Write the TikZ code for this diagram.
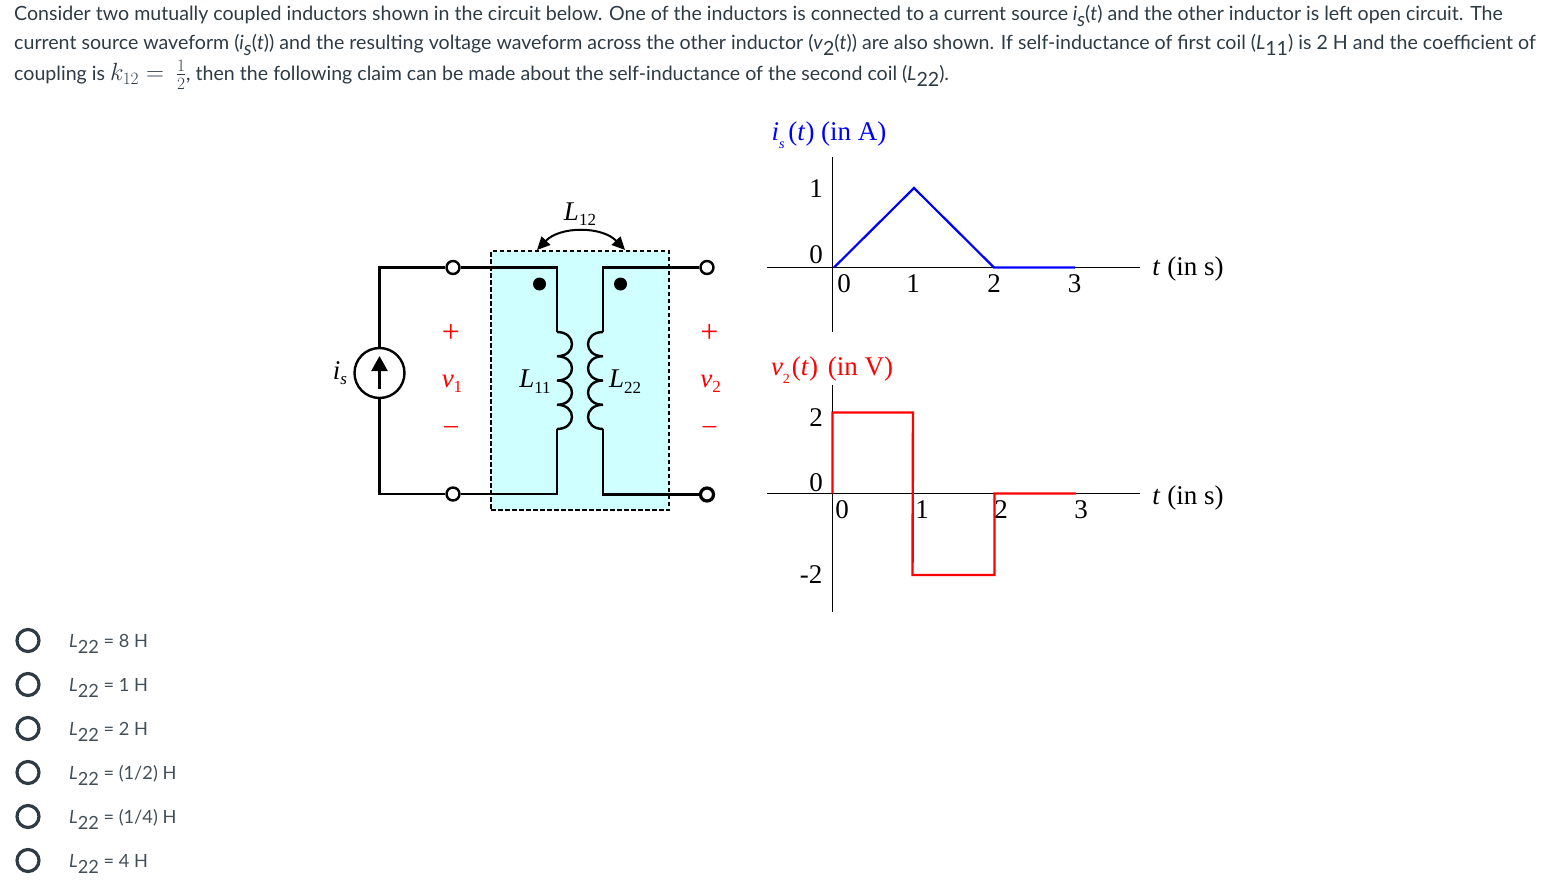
\documentclass[tikz,border=0pt]{standalone}
\usepackage{fontspec}
\usetikzlibrary{arrows.meta}
\setmainfont{Lato}
\newfontfamily\timesfont{Liberation Serif}
\definecolor{canvastext}{HTML}{2D3B45}
\definecolor{corefill}{HTML}{CFFFFF}
\newcommand{\lowsub}[1]{\raisebox{-0.3em}{#1}}
\newcommand{\circsub}[1]{\raisebox{-0.2em}{\fontsize{17}{17}\selectfont #1}}
\newcommand{\titlesub}[1]{\raisebox{-0.3em}{\fontsize{14}{14}\selectfont #1}}

\begin{document}
\begin{tikzpicture}[x=1pt,y=-1pt]
    \tikzstyle{wire} = [line width=2.4pt, line join=miter]
    \tikzstyle{darrow} = [{Triangle[length=13pt,width=12pt]}-{Triangle[length=13pt,width=12pt]}, line width=2pt]
    \tikzstyle{uparrow} = [-{Triangle[length=15pt,width=16pt]}, line width=2.4pt]
    \tikzstyle{axis} = [line width=1.7pt]
    \tikzstyle{para} = [anchor=base west, inner sep=0pt, text=canvastext,
        font=\fontsize{19.6}{22}\selectfont]
    \tikzstyle{choice} = [anchor=base west, inner sep=0pt, text=canvastext!90,
        font=\fontsize{18.2}{22}\selectfont]
    \tikzstyle{radio} = [circle, draw=canvastext, line width=3.2pt, minimum size=22pt,
        inner sep=0pt]
    \tikzstyle{term} = [circle, draw=black, fill=white, line width=2.4pt,
        minimum size=13pt, inner sep=0pt]
    \tikzstyle{dotmark} = [circle, fill=black, minimum size=13pt, inner sep=0pt]
    \tikzstyle{lab} = [inner sep=0pt, font=\timesfont\fontsize{27}{30}\selectfont]
    \tikzstyle{redlab} = [lab, text=red]
    \tikzstyle{redsign} = [redlab, font=\timesfont\fontsize{32}{34}\selectfont]

    \useasboundingbox (0,0) rectangle (1547,888);

    % question text
    \node(lineone) [para] at (14,20.8)
        {Consider two mutually coupled inductors shown in the circuit below. One of the inductors is connected to a current source \textit{i}\lowsub{\textit{s}}(\textit{t}) and the other inductor is left open circuit. The};
    \node(linetwo) [para] at (14,49.8)
        {current source waveform (\textit{i}\lowsub{\textit{s}}(\textit{t})) and the resulting voltage waveform across the other inductor (\textit{v}\lowsub{2}(\textit{t})) are also shown. If self-inductance of first coil (\textit{L}\lowsub{11}) is 2 H and the coefficient of};
    \node(linethree) [para] at (14,80.8)
        {coupling is {\fontsize{24}{24}\selectfont$k_{12}\;{=}\;$}\hspace{5pt}{\fontsize{23}{24}\selectfont$\frac{1}{2}$}, then the following claim can be made about the self-inductance of the second coil (\textit{L}\lowsub{22}).};

    % coupled inductors
    \node(core) [draw=black, dash pattern=on 4.5pt off 2.5pt, fill=corefill, line width=2.4pt,
        minimum width=178pt, minimum height=259pt] at (580,380.5) {};

    \node(termtl) [term] at (453,267.5) {};
    \node(termbl) [term] at (453,494) {};
    \node(termtr) [term] at (707,267.5) {};
    \node(termbr) [term, line width=3.2pt] at (707,494.5) {};
    \node(srcis) [circle, draw=black, line width=2.4pt, minimum size=50pt,
        inner sep=0pt] at (379.5,373) {};
    \coordinate(coilatop) at (557,332);
    \coordinate(coilabot) at (557,429);
    \coordinate(coilbtop) at (603,332);
    \coordinate(coilbbot) at (603,429);
    \coordinate(srctail) at (379.5,389);
    \coordinate(srchead) at (379.5,356);
    \coordinate(mutleft) at (537,250);
    \coordinate(mutright) at (625,250);

    \draw[wire] (srcis.north) |- (termtl);
    \draw[wire] (srcis.south) |- (termbl);
    \draw[wire] (termtl) -| (coilatop);
    \draw[wire] (termbl) -| (coilabot);
    \draw[wire] (termtr) -| (coilbtop);
    \draw[wire] (termbr) -| (coilbbot);
    \draw[wire] (coilatop)
        .. controls (577,332) and (577,356.25) .. (557,356.25)
        .. controls (577,356.25) and (577,380.5) .. (557,380.5)
        .. controls (577,380.5) and (577,404.75) .. (557,404.75)
        .. controls (577,404.75) and (577,429) .. (coilabot);
    \draw[wire] (coilbtop)
        .. controls (583,332) and (583,356.25) .. (603,356.25)
        .. controls (583,356.25) and (583,380.5) .. (603,380.5)
        .. controls (583,380.5) and (583,404.75) .. (603,404.75)
        .. controls (583,404.75) and (583,429) .. (coilbbot);
    \draw[uparrow] (srctail) -- (srchead);
    \draw[darrow] (mutleft) .. controls (560,226) and (602,226) .. (mutright);

    \node(dotleft) [dotmark] at (539.5,284) {};
    \node(dotright) [dotmark] at (620.5,284) {};

    \node(labis) [lab] at (340,373) {\textit{i}\circsub{\textit{s}}};
    \node(labmut) [lab] at (580,214) {\textit{L}\circsub{12}};
    \node(labla) [lab] at (535,381.5) {\textit{L}\circsub{11}};
    \node(lablb) [lab] at (625,381.5) {\textit{L}\circsub{22}};
    \node(plusone) [redsign] at (451,333) {+};
    \node(vone) [redlab] at (452,384) {\textit{v}\circsub{1}};
    \node(minusone) [redlab] at (451,430.5) {–};
    \node(plustwo) [redsign] at (709.5,333) {+};
    \node(vtwo) [redlab] at (710.5,384) {\textit{v}\circsub{2}};
    \node(minustwo) [redlab] at (709.5,430.5) {–};

    % source current plot
    \coordinate(curtop) at (832.5,157);
    \coordinate(curbot) at (832.5,332);
    \coordinate(curleft) at (767,267.5);
    \coordinate(curright) at (1140,267.5);
    \draw[axis] (curtop) -- (curbot);
    \draw[axis] (curleft) -- (curright);
    \draw[blue, line width=2.2pt] (834,267.5) -- (914,188) -- (994,267.5) -- (1075,267.5);
    \node(curtitle) [lab, text=blue] at (829,135)
        {\textit{i}\titlesub{\textit{s}}\hspace{4pt}(\textit{t}) (in A)};
    \node(curyone) [lab] at (816,189) {1};
    \node(curyzero) [lab] at (816,254.5) {0};
    \node(curxzero) [lab] at (844,284) {0};
    \node(curxone) [lab] at (913,284) {1};
    \node(curxtwo) [lab] at (994,284) {2};
    \node(curxthree) [lab] at (1074.5,284) {3};
    \node(curunit) [lab] at (1188,269) {\textit{t} (in s)};

    % induced voltage plot
    \coordinate(voltop) at (832.5,385);
    \coordinate(volbot) at (832.5,612);
    \coordinate(volleft) at (767,493.5);
    \coordinate(volright) at (1140,493.5);
    \draw[axis] (voltop) -- (volbot);
    \draw[axis] (volleft) -- (volright);
    \draw[red, line width=2.4pt] (832.5,493.5) -- (832.5,412.5) -- (913,412.5)
        -- (912.5,575) -- (994.5,575) -- (994.5,493.5) -- (1076,493.5);
    \node(voltitle) [redlab] at (832,370.5)
        {\textit{v}\titlesub{2}\hspace{2pt}(\textit{t})\hspace{3pt} (in V)};
    \node(volytwo) [lab] at (816,417.5) {2};
    \node(volyzero) [lab] at (816,482.5) {0};
    \node(volyminus) [lab] at (811,574.5) {-2};
    \node(volxzero) [lab] at (842,510) {0};
    \node(volxone) [lab] at (922,510) {1};
    \node(volxtwo) [lab] at (1001,510) {2};
    \node(volxthree) [lab] at (1081,510) {3};
    \node(volunit) [lab] at (1188,498) {\textit{t} (in s)};

    % answer choices
    \node(radioa) [radio] at (28,640.5) {};
    \node(radiob) [radio] at (28,684.5) {};
    \node(radioc) [radio] at (28,728.5) {};
    \node(radiod) [radio] at (28,772.5) {};
    \node(radioe) [radio] at (28,816.5) {};
    \node(radiof) [radio] at (28,860.5) {};
    \node(choicea) [choice] at (69,647.8) {\textit{L}\lowsub{22} = 8 H};
    \node(choiceb) [choice] at (69,691.8) {\textit{L}\lowsub{22} = 1 H};
    \node(choicec) [choice] at (69,735.8) {\textit{L}\lowsub{22} = 2 H};
    \node(choiced) [choice] at (69,779.8) {\textit{L}\lowsub{22} = (1/2) H};
    \node(choicee) [choice] at (69,823.8) {\textit{L}\lowsub{22} = (1/4) H};
    \node(choicef) [choice] at (69,867.8) {\textit{L}\lowsub{22} = 4 H};
\end{tikzpicture}
\end{document}
